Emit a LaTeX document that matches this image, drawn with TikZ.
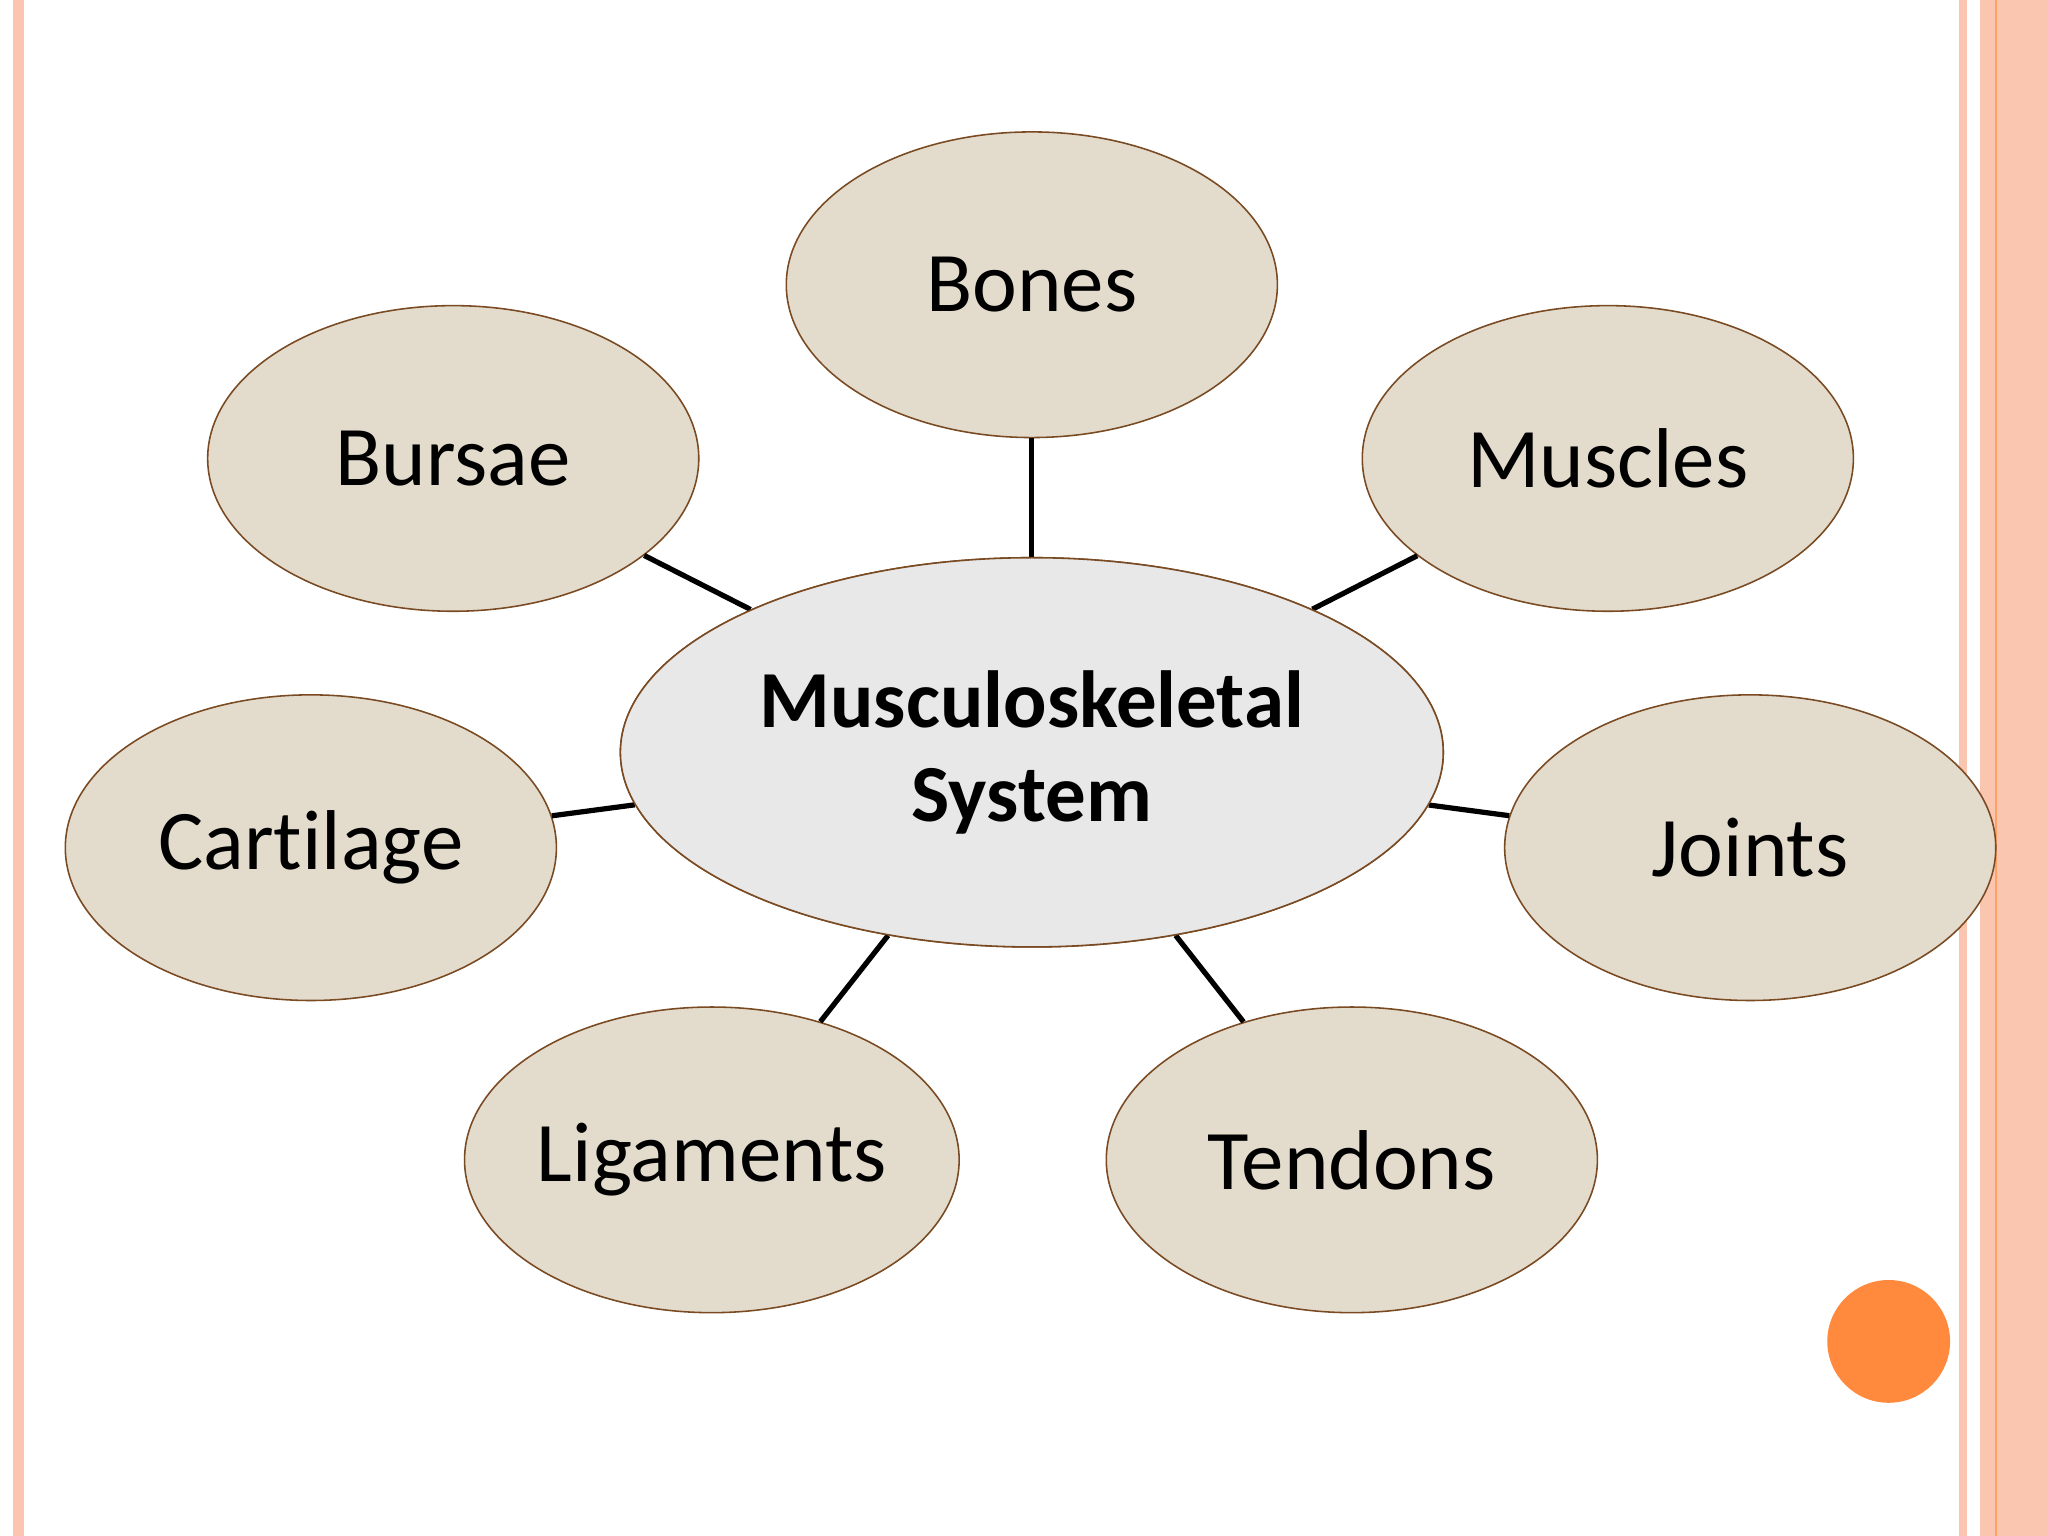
\documentclass[tikz,border=0pt]{standalone}
\usepackage{fontspec}
\setmainfont{Carlito}[RawFeature={-liga}]
\usetikzlibrary{shapes.geometric}
\definecolor{beige}{HTML}{E3DCCD}
\definecolor{edge}{HTML}{7A4A22}
\definecolor{pinkb}{HTML}{FBC6B0}
\definecolor{orng}{HTML}{FF8A3D}
\tikzset{
 leaf/.style={ellipse,draw=edge,line width=0.6pt,fill=beige,minimum width=188pt,minimum height=117pt,inner sep=0pt,font=\fontsize{32.5}{36}\selectfont},
 hub/.style={ellipse,draw=edge,line width=0.6pt,fill=gray!18,minimum width=315pt,minimum height=149pt,inner sep=0pt,align=center,font=\bfseries\fontsize{31}{36}\selectfont},
 link/.style={line width=2pt,black}
}
\begin{document}
\begin{tikzpicture}[x=0.5pt,y=-0.5pt]
\useasboundingbox (0,0) rectangle (1568,1176);
\fill[white] (0,0) rectangle (1568,1176);
\fill[pinkb] (10,0) rectangle (18,1176);
\fill[pinkb] (1500,0) rectangle (1506,1176);
\fill[pinkb] (1516,0) rectangle (1568,1176);
\draw[orng!80,line width=0.8pt] (1528,0) -- (1528,1176);
\node[hub] (c) at (790,576) {Musculoskeletal\\System};
\node[leaf] (bones) at (790,218) {Bones};
\node[leaf] (bursae) at (347,351) {Bursae};
\node[leaf] (muscles) at (1231,351) {Muscles};
\node[leaf] (cart) at (238,649) {Cartilage};
\node[leaf] (joints) at (1340,649) {Joints};
\node[leaf] (lig) at (545,888) {Ligaments};
\node[leaf] (ten) at (1035,888) {Tendons};
\foreach \n in {bones,bursae,muscles,cart,joints,lig,ten} \draw[link] (c) -- (\n);
\node[hub] at (790,576) {Musculoskeletal\\System};
\node[circle,fill=orng,minimum size=47pt,inner sep=0pt] (dot) at (1446,1027) {};
\end{tikzpicture}
\end{document}
